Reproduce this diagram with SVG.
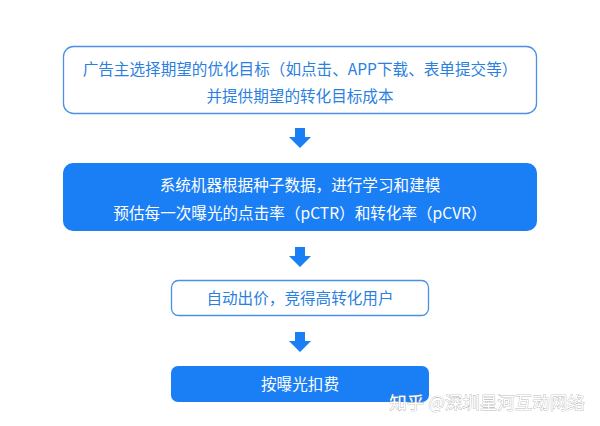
<svg xmlns="http://www.w3.org/2000/svg" width="600" height="426" viewBox="0 0 600 426">
<style>
text{font-family:"Noto Sans CJK SC","Noto Sans",sans-serif;font-size:15.6px;text-anchor:middle}
.o{fill:#fff;stroke:#4a90e8;stroke-width:1.3}
.f{fill:#1a7ef5}
.bt{fill:#2b7fe0}
.wt{fill:#fff}
.ar{fill:#1a7ef5}
</style>
<rect width="600" height="426" fill="#fff"/>
<g id="n1"><rect class="o" x="63.5" y="46.5" width="473" height="67" rx="10"/>
<text class="bt" x="300" y="75">广告主选择期望的优化目标（如点击、APP下载、表单提交等）</text>
<text class="bt" x="300" y="102">并提供期望的转化目标成本</text></g>
<g id="n2"><rect class="f" x="63" y="163" width="474" height="68" rx="10"/>
<text class="wt" x="300" y="191">系统机器根据种子数据，进行学习和建模</text>
<text class="wt" x="300" y="219">预估每一次曝光的点击率（pCTR）和转化率（pCVR）</text></g>
<g id="n3"><rect class="o" x="171.5" y="280.5" width="257" height="35" rx="7"/>
<text class="bt" x="300" y="304">自动出价，竞得高转化用户</text></g>
<g id="n4"><rect class="f" x="171" y="366" width="258" height="36" rx="7"/>
<text class="wt" x="300" y="390">按曝光扣费</text></g>
<g id="connectors">
<path class="ar" d="M295 128h10v9h6l-11 11l-11-11h6z"/>
<path class="ar" d="M295 247h10v9h6l-11 11l-11-11h6z"/>
<path class="ar" d="M295 332h10v9h6l-11 11l-11-11h6z"/>
</g>
<text x="487" y="409" style="font-size:17.5px;fill:#fff;stroke:#999;stroke-width:0.6;paint-order:stroke">知乎 @深圳星河互动网络</text>
</svg>
